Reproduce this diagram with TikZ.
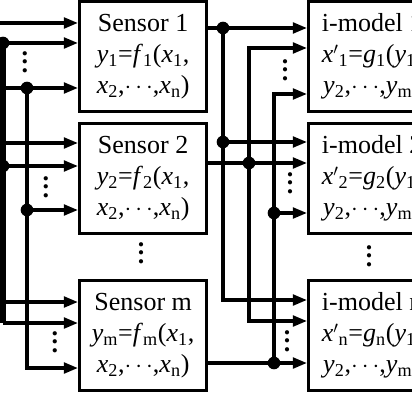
\documentclass[tikz,border=0pt]{standalone}
\usepackage{fontspec}
\setmainfont{Liberation Serif}
\usetikzlibrary{arrows.meta}
\newcommand{\subv}[2]{\textit{#1}\textsubscript{#2}}
\newcommand{\vdts}{\vbox{\baselineskip=6pt\lineskiplimit=0pt\hbox{\bfseries .}\hbox{\bfseries .}\hbox{\bfseries .}}}

\begin{document}
\begin{tikzpicture}[x=0.025cm, y=-0.025cm, line width=2.3pt, >={Triangle[length=10pt,width=7.5pt]},
    box/.style = {draw, rectangle, anchor=north west, minimum width=3.175cm, minimum height=2.75cm,
      align=center, font=\fontsize{18.5}{22}\selectfont},
    dot/.style = {circle, fill, inner sep=0pt, minimum size=9pt},
    vd/.style = {inner sep=0pt, font=\fontsize{18.5}{22}\selectfont},
    bus/.style = {line width=3.6pt}]

    \useasboundingbox (0,0) rectangle (412,412);

    % Sensor boxes
    \node[box] (s1) at (78,0) {Sensor 1\\ \subv{y}{1}=\subv{f}{1}(\subv{x}{1},\\ \subv{x}{2},$\cdots$,\subv{x}{n})};
    \node[box] (s2) at (78,122) {Sensor 2\\ \subv{y}{2}=\subv{f}{2}(\subv{x}{1},\\ \subv{x}{2},$\cdots$,\subv{x}{n})};
    \node[box] (sm) at (78,279) {Sensor m\\ \subv{y}{m}=\subv{f}{m}(\subv{x}{1},\\ \subv{x}{2},$\cdots$,\subv{x}{n})};

    % i-model boxes
    \node[box] (m1) at (307,0) {i-model 1\\ \textit{x}$'$\textsubscript{1}=\subv{g}{1}(\subv{y}{1},\\ \subv{y}{2},$\cdots$,\subv{y}{m})};
    \node[box] (m2) at (307,122) {i-model 2\\ \textit{x}$'$\textsubscript{2}=\subv{g}{2}(\subv{y}{1},\\ \subv{y}{2},$\cdots$,\subv{y}{m})};
    \node[box] (mn) at (307,279) {i-model n\\ \textit{x}$'$\textsubscript{n}=\subv{g}{n}(\subv{y}{1},\\ \subv{y}{2},$\cdots$,\subv{y}{m})};

    % Input ends and junctions
    \coordinate (a1) at (0,23);
    \coordinate (a2) at (0,143);
    \coordinate (a3) at (0,302);
    \coordinate (b0) at (0,43);
    \coordinate (c0) at (0,88);
    \node[dot] (b1) at (3,43) {};
    \node[dot] (b2) at (3,166) {};
    \coordinate (b3) at (3,323);
    \node[dot] (c1) at (27,88) {};
    \node[dot] (c2) at (27,210) {};
    \coordinate (c3) at (27,368);

    % Output junctions
    \node[dot] (e1) at (223,28) {};
    \node[dot] (e2) at (223,142) {};
    \coordinate (e3) at (223,300);
    \coordinate (g1) at (249,48);
    \node[dot] (g2) at (249,163) {};
    \coordinate (g3) at (249,321);
    \coordinate (h1) at (274,94);
    \node[dot] (h2) at (274,213) {};
    \node[dot] (h3) at (274,363) {};

    % Dots
    \node[vd] (v1) at (25,62) {\vdts};
    \node[vd] (v2) at (46,187) {\vdts};
    \node[vd] (v3) at (55,342) {\vdts};
    \node[vd] (v4) at (141,253) {\vdts};
    \node[vd] (w1) at (285,70) {\vdts};
    \node[vd] (w2) at (290,183) {\vdts};
    \node[vd] (w3) at (287,341) {\vdts};
    \node[vd] (w4) at (369,256) {\vdts};

    % Edges into sensors
    \draw[->] (a1) -- (a1 -| s1.west);
    \draw[->] (a2) -- (a2 -| s2.west);
    \draw[->] (a3) -- (a3 -| sm.west);
    \draw[->] (b0) -- (b0 -| s1.west);
    \draw[->] (c0) -- (c0 -| s1.west);
    \draw[->] (b2.center) -- (b2 -| s2.west);
    \draw[->] (c2.center) -- (c2 -| s2.west);
    \draw[bus] (b1.center) -- (b3);
    \draw[->] (b3) -- (b3 -| sm.west);
    \draw[->] (c1.center) -- (c3) -- (c3 -| sm.west);

    % Edges into i-models
    \draw[->] (e1 -| s1.east) -- (e1 -| m1.west);
    \draw[->] (e1.center) -- (e3) -- (e3 -| mn.west);
    \draw[->] (e2.center) -- (e2 -| m2.west);
    \draw[->] (g2 -| s2.east) -- (g2 -| m2.west);
    \draw[<->] (g1 -| m1.west) -- (g1) -- (g3) -- (g3 -| mn.west);
    \draw[<-] (h1 -| m1.west) -- (h1) -- (h3.center);
    \draw[->] (h2.center) -- (h2 -| m2.west);
    \draw[->] (h3 -| sm.east) -- (h3 -| mn.west);

\end{tikzpicture}
\end{document}
